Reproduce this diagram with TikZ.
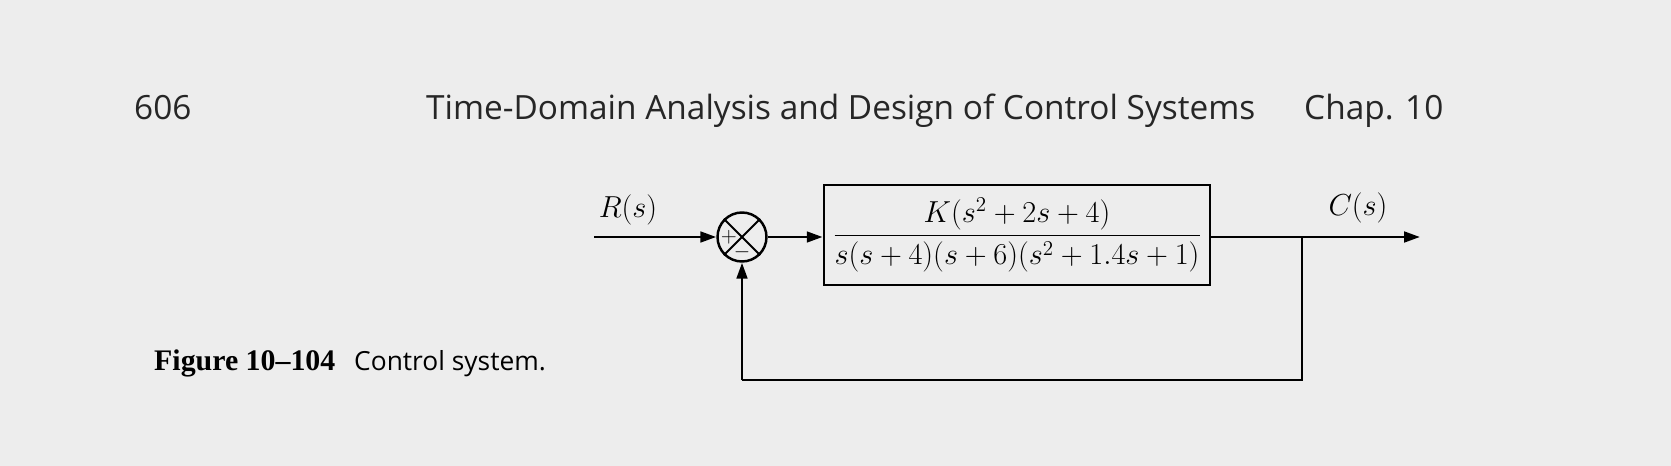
\documentclass[tikz,border=0pt]{standalone}
\usepackage{fontspec}
\setmainfont{Liberation Serif}
\newfontfamily\hdr{Open Sans}
\usetikzlibrary{arrows.meta}
\begin{document}
\begin{tikzpicture}[x=0.02cm,y=-0.02cm,
  sig/.style={line width=1.6pt,-{Triangle[length=9pt,width=6pt]}},
  wire/.style={line width=1.6pt},
  hd/.style={font=\hdr\fontsize{19}{22}\selectfont,text=black!85,anchor=base west}]
\fill[gray!14] (0,0) rectangle (1671,466);
\useasboundingbox (0,0) rectangle (1671,466);
\node[hd] (pg) at (128,120) {606};
\node[hd] (tt) at (420,120) {Time-Domain Analysis and Design of Control Systems};
\node[hd] (ch) at (1298,120) {Chap. 10};
\node[anchor=base west,font=\fontsize{17}{20}\selectfont\bfseries] (fg) at (148,370) {Figure 10--104};
\node[anchor=base west,font=\hdr\fontsize{15}{18}\selectfont] (cs) at (348,370) {Control system.};
\node[font=\fontsize{19}{22}\selectfont] (R) at (628,210) {$R(s)$};
\node[font=\fontsize{19}{22}\selectfont] (C) at (1358,208) {$C(s)$};
\coordinate (in) at (594,237);
\node[circle,draw,line width=1.4pt,minimum size=0.98cm,inner sep=0pt] (S) at (742,237) {};
\draw[line width=1.2pt] (S.north west)--(S.south east) (S.north east)--(S.south west);
\node[font=\fontsize{13}{14}\selectfont,inner sep=0pt] (pl) at (729,237) {$+$};
\node[font=\fontsize{13}{14}\selectfont,inner sep=0pt] (mi) at (742,252) {$-$};
\node[draw,line width=1.6pt,minimum width=7.72cm,minimum height=2.0cm,font=\fontsize{18}{22}\selectfont] (G) at (1017,235)
  {$\displaystyle\frac{K(s^2+2s+4)}{s(s+4)(s+6)(s^2+1.4s+1)}$};
\coordinate (out) at (1420,237);
\coordinate (br) at (1302,237);
\coordinate (c1) at (1302,380);
\coordinate (c2) at (742,380);
\draw[sig] (in) -- (S.west);
\draw[sig] (S.east) -- (G.west |- S.east);
\draw[sig] (G.east |- out) -- (out);
\draw[wire] (br) -- (c1) -- (c2);
\draw[sig] (c2) -- (S.south);
\end{tikzpicture}
\end{document}
